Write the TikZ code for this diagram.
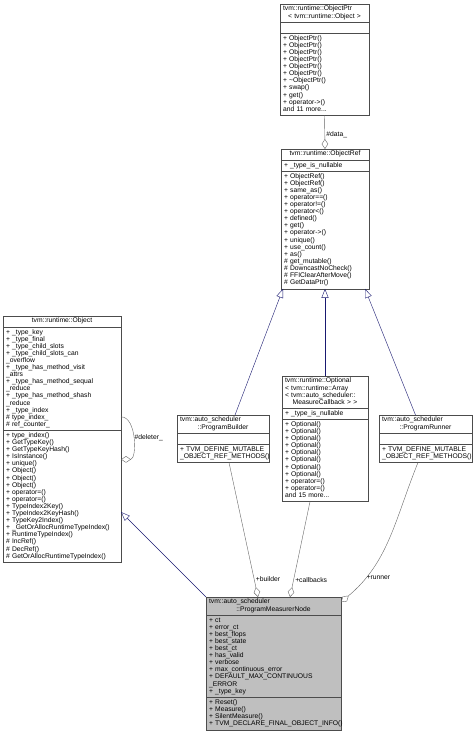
\documentclass[tikz,border=0pt]{standalone}
\usepackage{fontspec}
\setmainfont{Liberation Sans}
\usetikzlibrary{positioning}
\usetikzlibrary{arrows.meta}
\definecolor{inhblue}{RGB}{25,25,112}
\hyphenpenalty=10000
\exhyphenpenalty=10000
\newcommand\ctrline[1]{\\\hspace*{\fill}#1\hspace*{\fill}}

\begin{document}
\begin{tikzpicture}[x=1pt, y=-1pt,
   sect/.style={draw=black!70, fill=white, inner xsep=3pt, inner ysep=2pt, outer sep=0pt,
      align=left, font=\fontsize{6.75}{7.1}\selectfont,
      execute at begin node=\strut, execute at end node=\strut},
   head/.style={sect, anchor=north west},
   focus/.style={fill=black!25},
   inherit/.style={draw=inhblue, -{Triangle[open, length=9pt, width=7pt]}},
   usage/.style={draw=black!60, -{Diamond[open, length=10pt, width=6.5pt]}},
   elabel/.style={font=\fontsize{6.75}{7.1}\selectfont, inner sep=1.5pt, anchor=west}]
\useasboundingbox (0,0) rectangle (474,734);

\node[head, text width=83pt] (ptrT) at (280,4) {tvm::runtime::ObjectPtr\ctrline{< tvm::runtime::Object >}};
\node[sect, text width=83pt, below=0pt of ptrT] (ptrA) {};
\node[sect, text width=83pt, below=0pt of ptrA] (ptrM) {+ ObjectPtr()\\+ ObjectPtr()\\+ ObjectPtr()\\+ ObjectPtr()\\+ ObjectPtr()\\+ ObjectPtr()\\+ \textasciitilde ObjectPtr()\\+ swap()\\+ get()\\+ operator->()\\and 11 more...};

\node[head, align=center, text width=82pt] (refT) at (281,149) {tvm::runtime::ObjectRef};
\node[sect, text width=82pt, below=0pt of refT] (refA) {+ \_type\_is\_nullable};
\node[sect, text width=82pt, below=0pt of refA] (refM) {+ ObjectRef()\\+ ObjectRef()\\+ same\_as()\\+ operator==()\\+ operator!=()\\+ operator<()\\+ defined()\\+ get()\\+ operator->()\\+ unique()\\+ use\_count()\\+ as()\\\# get\_mutable()\\\# DowncastNoCheck()\\\# FFIClearAfterMove()\\\# GetDataPtr()};

\node[head, align=center, text width=112pt] (objT) at (3,316) {tvm::runtime::Object};
\node[sect, text width=112pt, below=0pt of objT] (objA) {+ \_type\_key\\+ \_type\_final\\+ \_type\_child\_slots\\+ \_type\_child\_slots\_can\\\_overflow\\+ \_type\_has\_method\_visit\\\_attrs\\+ \_type\_has\_method\_sequal\\\_reduce\\+ \_type\_has\_method\_shash\\\_reduce\\+ \_type\_index\\\# type\_index\_\\\# ref\_counter\_};
\node[sect, text width=112pt, below=0pt of objA] (objM) {+ type\_index()\\+ GetTypeKey()\\+ GetTypeKeyHash()\\+ IsInstance()\\+ unique()\\+ Object()\\+ Object()\\+ Object()\\+ operator=()\\+ operator=()\\+ TypeIndex2Key()\\+ TypeIndex2KeyHash()\\+ TypeKey2Index()\\+ \_GetOrAllocRuntimeTypeIndex()\\+ RuntimeTypeIndex()\\\# IncRef()\\\# DecRef()\\\# GetOrAllocRuntimeTypeIndex()};

\node[head, text width=86pt] (bldT) at (177,415) {tvm::auto\_scheduler\ctrline{::ProgramBuilder}};
\node[sect, text width=86pt, below=0pt of bldT] (bldA) {};
\node[sect, text width=86pt, below=0pt of bldA] (bldM) {+~TVM\_DEFINE\_MUTABLE\\\_OBJECT\_REF\_METHODS()};

\node[head, text width=80pt] (optT) at (282,376) {tvm::runtime::Optional\\< tvm::runtime::Array\\< tvm::auto\_scheduler::\ctrline{MeasureCallback > >}};
\node[sect, text width=80pt, below=0pt of optT] (optA) {+ \_type\_is\_nullable};
\node[sect, text width=80pt, below=0pt of optA] (optM) {+ Optional()\\+ Optional()\\+ Optional()\\+ Optional()\\+ Optional()\\+ Optional()\\+ Optional()\\+ Optional()\\+ operator=()\\+ operator=()\\and 15 more...};

\node[head, text width=87pt] (runT) at (379,415) {tvm::auto\_scheduler\ctrline{::ProgramRunner}};
\node[sect, text width=87pt, below=0pt of runT] (runA) {};
\node[sect, text width=87pt, below=0pt of runA] (runM) {+~TVM\_DEFINE\_MUTABLE\\\_OBJECT\_REF\_METHODS()};

\node[head, focus, text width=129pt] (nodeT) at (206,597) {tvm::auto\_scheduler\ctrline{::ProgramMeasurerNode}};
\node[sect, focus, text width=129pt, below=0pt of nodeT] (nodeA) {+ ct\\+ error\_ct\\+ best\_flops\\+ best\_state\\+ best\_ct\\+ has\_valid\\+ verbose\\+ max\_continuous\_error\\+ DEFAULT\_MAX\_CONTINUOUS\\\_ERROR\\+ \_type\_key};
\node[sect, focus, text width=129pt, below=0pt of nodeA] (nodeM) {+ Reset()\\+ Measure()\\+ SilentMeasure()\\+~TVM\_DECLARE\_FINAL\_OBJECT\_INFO()};

\draw[usage] (ptrM.south) -- node[elabel, pos=0.57] {\#data\_} (refT.north);
\draw[usage] ([yshift=-38pt]objA.east) .. controls +(16,0) and +(16,0) .. node[elabel, pos=0.5] {\#deleter\_} ([yshift=37pt]objM.east);
\draw[usage] ([xshift=6pt]bldM.south) -- node[elabel, pos=0.87] {+builder} ([xshift=-15.5pt]nodeT.north);
\draw[usage] ([xshift=-15pt]optM.south) -- node[elabel, pos=0.82] {+callbacks} ([xshift=16.5pt]nodeT.north);
\draw[usage] ([xshift=-7.5pt]runM.south) to[out=-112, in=40] node[elabel, pos=0.8] {+runner} ([yshift=4pt]nodeT.east);

\draw[inherit] ([xshift=12pt]bldT.north) -- ([xshift=-42pt]refM.south);
\draw[inherit] (optT.north) -- (refM.south);
\draw[inherit] ([xshift=-10pt]runT.north) -- ([xshift=40pt]refM.south);
\draw[inherit] (nodeT.north west) -- ([yshift=-15.6pt]objM.east);
\end{tikzpicture}
\end{document}
